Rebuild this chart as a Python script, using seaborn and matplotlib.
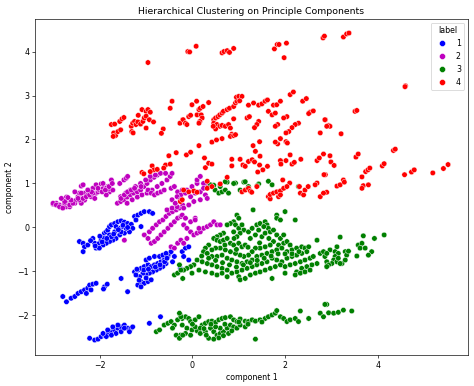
import matplotlib
matplotlib.use("Agg")
import matplotlib.pyplot as plt
import seaborn as sns
import pandas as pd

labels = [1, 2, 3, 4]
colors = {1: "blue", 2: "m", 3: "green", 4: "red"}
xticks = [-2, 0, 2, 4]
yticks = [-2, -1, 0, 1, 2, 3, 4]

blue_pts = [
    (-2.44, -0.32), (-2.36, -0.36), (-2.33, -0.44), (-2.36, -0.55), (-2.26, -0.40), (-2.15, -0.25),
    (-2.11, -0.36), (-2.08, -0.47), (-2.04, -0.44), (-2.01, -0.36), (-1.97, -0.29), (-1.93, -0.21),
    (-1.90, -0.13), (-1.86, -0.10), (-1.83, -0.06), (-1.79, 0.02), (-1.75, 0.06), (-1.68, 0.09),
    (-1.61, 0.13), (-1.54, 0.15), (-1.47, 0.12), (-1.40, 0.09), (-1.32, 0.07), (-1.29, -0.02),
    (-1.36, -0.10), (-1.47, -0.13), (-1.57, -0.17), (-1.65, -0.25), (-1.72, -0.29), (-1.79, -0.32),
    (-1.86, -0.36), (-1.93, -0.40), (-2.01, -0.47), (-1.90, -0.25), (-1.79, -0.17), (-1.68, -0.10),
    (-1.57, -0.02), (-1.50, 0.02), (-1.43, -0.02), (-1.65, 0.02), (-1.54, -0.10), (-1.75, -0.21),
    (-2.20, -0.30), (-2.00, -0.20), (-1.85, -0.25), (-1.70, -0.15), (-1.60, -0.05), (-1.50, 0.05),
    (-1.40, 0.00), (-2.10, -0.42), (-1.95, -0.33),
    (-1.25, 0.25), (-1.18, 0.28), (-1.11, 0.32), (-1.04, 0.36), (-0.93, 0.36), (-0.86, 0.32),
    (-1.11, 0.02), (-1.22, 0.17),
    (-1.25, -1.01), (-1.18, -0.97), (-1.11, -0.93), (-1.04, -0.89), (-0.96, -0.85), (-0.89, -0.89),
    (-0.82, -0.85), (-0.75, -0.82), (-0.68, -0.78), (-0.61, -0.74), (-0.53, -0.66), (-0.50, -0.59),
    (-0.46, -0.55), (-0.57, -0.82), (-0.64, -0.89), (-0.71, -0.93), (-0.78, -0.97), (-0.86, -1.01),
    (-0.93, -1.04), (-1.00, -1.08), (-1.07, -1.04), (-1.14, -1.12), (-1.22, -1.08), (-1.11, -1.23),
    (-1.04, -1.27), (-0.96, -1.23), (-0.89, -1.19), (-1.18, -1.31), (-1.11, -1.35), (-1.40, -1.46),
    (-1.54, -1.16), (-1.00, -0.74), (-0.93, -0.70), (-0.82, -0.66), (-0.71, -0.66), (-0.64, -0.63),
    (-0.57, -0.59), (-0.39, -0.66), (-0.43, -0.78),
    (-1.20, -0.95), (-1.05, -0.97), (-0.95, -0.95), (-0.80, -0.90), (-0.70, -0.85), (-0.60, -0.78),
    (-0.55, -0.70), (-1.15, -1.20), (-1.00, -1.15),
    (-0.22, -0.55), (-0.15, -0.47), (-0.08, -0.44), (-0.19, -0.66), (-0.08, -0.74), (-0.26, -0.93),
    (-2.80, -1.57), (-2.72, -1.69), (-2.62, -1.61), (-2.54, -1.57), (-2.47, -1.50), (-2.40, -1.46),
    (-2.33, -1.42), (-2.26, -1.38), (-2.22, -1.31), (-2.15, -1.29), (-2.08, -1.27), (-2.19, -1.42),
    (-2.29, -1.50), (-1.90, -1.35), (-1.84, -1.29), (-1.92, -1.40),
    (-2.22, -2.52), (-2.11, -2.56), (-2.04, -2.54), (-1.97, -2.48), (-1.90, -2.45), (-1.83, -2.41),
    (-1.75, -2.37), (-1.68, -2.33), (-1.61, -2.29), (-1.54, -2.26), (-1.47, -2.22), (-1.40, -2.29),
    (-1.32, -2.29), (-1.29, -2.26), (-1.36, -2.37), (-1.54, -2.37), (-1.65, -2.41), (-1.75, -2.45),
    (-1.86, -2.48), (-1.93, -2.41), (-1.83, -2.33), (-1.72, -2.26), (-1.61, -2.22), (-1.47, -2.29),
    (-0.93, -2.18), (-0.69, -2.03),
]

purple_pts = [
    (-3.01, 0.53), (-2.94, 0.55), (-2.87, 0.51), (-2.80, 0.47), (-2.72, 0.47), (-2.69, 0.55),
    (-2.72, 0.69), (-2.62, 0.59), (-2.54, 0.55), (-2.51, 0.62), (-2.47, 0.70), (-2.44, 0.78),
    (-2.40, 0.94), (-2.36, 0.97), (-2.54, 0.81), (-2.33, 0.78), (-2.26, 0.74), (-2.19, 0.70),
    (-2.11, 0.66), (-2.08, 0.78), (-2.04, 0.81), (-1.97, 0.85), (-1.90, 0.89), (-1.83, 0.93),
    (-2.15, 0.89), (-2.08, 0.97), (-1.97, 0.99), (-1.93, 1.00), (-1.79, 0.81), (-1.75, 1.08),
    (-1.86, 0.74), (-2.26, 0.85), (-2.33, 0.62), (-2.40, 0.55), (-2.65, 0.47), (-2.76, 0.55),
    (-3.01, 0.55), (-2.94, 0.51), (-2.87, 0.47), (-2.80, 0.44), (-2.65, 0.51), (-2.58, 0.55),
    (-2.44, 0.62), (-2.36, 0.66), (-2.29, 0.70), (-2.22, 0.74), (-2.15, 0.78), (-2.01, 0.85),
    (-1.93, 0.88), (-1.86, 0.89), (-1.79, 0.88), (-1.72, 0.85), (-2.76, 0.59), (-2.62, 0.62),
    (-2.47, 0.66), (-2.18, 0.81), (-2.04, 0.89), (-2.83, 0.66), (-2.69, 0.68), (-2.40, 0.78),
    (-2.26, 0.85), (-1.95, 0.81), (-1.88, 0.85), (-1.80, 0.93), (-1.73, 1.00),
    (-1.62, 0.55), (-1.55, 0.59), (-1.48, 0.63), (-1.41, 0.69), (-1.34, 0.74), (-1.27, 0.78),
    (-1.19, 0.81), (-1.12, 0.85), (-1.05, 0.93), (-0.98, 1.00), (-0.91, 1.08), (-0.83, 1.14),
    (-0.76, 1.19), (-0.69, 1.23), (-0.58, 1.23), (-1.55, 0.70), (-1.44, 0.78), (-1.34, 0.85),
    (-1.23, 0.93), (-1.12, 1.00), (-1.01, 1.08), (-0.91, 1.16), (-0.80, 1.19), (-1.41, 0.55),
    (-1.30, 0.63), (-1.19, 0.69), (-1.09, 0.74), (-0.98, 0.78), (-0.87, 0.85), (-0.76, 0.93),
    (-0.66, 1.00), (-0.55, 1.08), (-0.48, 1.16), (-0.44, 1.23), (-1.54, 0.66), (-1.47, 0.74),
    (-1.40, 0.81), (-1.32, 0.85), (-1.25, 0.89), (-1.11, 0.93), (-0.96, 0.85), (-0.89, 0.78),
    (-0.82, 0.74), (-0.75, 0.78), (-0.68, 0.81), (-0.61, 0.85), (-0.46, 0.89), (-0.39, 0.93),
    (-0.32, 0.81), (-0.25, 0.74), (-1.57, 1.00), (-1.48, 1.08), (-1.43, 1.12), (-1.40, 1.16),
    (-1.04, -0.17), (-0.96, -0.25), (-0.89, -0.36), (-0.82, -0.32), (-0.75, -0.25), (-0.68, -0.17),
    (-0.61, -0.10), (-0.53, -0.02), (-0.46, 0.06), (-0.39, 0.13), (-0.32, 0.21), (-0.25, 0.25),
    (-0.93, -0.10), (-0.86, -0.02), (-0.78, 0.06), (-0.71, 0.13), (-0.64, 0.17), (-0.57, 0.25),
    (-0.50, 0.32), (-0.43, 0.36), (-0.35, 0.40), (-0.28, 0.44), (-0.21, 0.51), (-0.46, -0.44),
    (-0.39, -0.47), (-0.32, -0.36), (-0.25, -0.29), (-1.47, -0.29),
    (-0.55, 0.40), (-0.44, 0.44), (-0.33, 0.47), (0.32, 0.93), (0.10, 1.00), (-0.01, 0.93),
    (-0.12, 0.85), (-0.33, 0.70), (-0.44, 0.63), (-0.37, 0.55), (-0.26, 0.63), (0.24, 1.00),
    (0.10, 1.08), (0.17, 1.16),
    (-0.22, 0.85), (-0.15, 0.78), (-0.04, 0.70), (0.06, 0.78), (0.17, 0.81), (0.24, 0.89),
    (0.28, 0.74), (0.32, 0.66), (0.17, 0.63), (0.03, 0.59), (-0.08, 0.51), (-0.19, 0.44),
    (-0.22, 0.28), (-0.15, 0.21), (-0.04, 0.13), (0.06, 0.21), (-0.19, 0.06), (-0.12, -0.02),
    (-0.04, -0.10), (0.03, -0.17), (0.10, -0.13), (0.17, -0.10), (0.24, -0.02), (0.32, 0.02),
    (0.39, 0.06), (0.46, 0.13), (0.53, 0.06), (0.60, 0.06), (-0.12, -0.25), (-0.19, -0.36),
    (0.06, 0.17), (0.14, -0.02),
]

green_pts = [
    (0.75, 1.03), (0.93, 1.01), (1.11, 1.03), (1.43, 0.99), (1.64, 1.05), (1.72, 0.97),
    (2.29, 0.93), (0.60, 0.97), (0.46, 0.96), (1.40, 0.95),
    (0.39, 0.97), (0.49, 0.85), (0.57, 0.78), (0.64, 0.81), (0.71, 0.85), (0.78, 0.78),
    (0.71, 1.04), (0.89, 1.00), (1.03, 0.85), (1.14, 1.04), (1.21, 0.93), (0.60, 0.93),
    (1.31, 0.40), (2.00, 0.36), (1.82, 0.28), (1.82, 0.21), (1.90, 0.17), (2.22, 0.17),
    (0.96, 0.28), (1.00, 0.21), (0.89, 0.13), (0.82, 0.09), (0.75, 0.06), (0.93, 0.06),
    (1.00, -0.02), (1.07, 0.06), (1.11, -0.06), (1.03, -0.13), (0.96, -0.21), (0.89, -0.10),
    (0.67, -0.13), (0.60, -0.17), (0.53, -0.21), (0.46, -0.25), (0.53, -0.29), (0.60, -0.32),
    (0.67, -0.29), (0.75, -0.25), (0.82, -0.36), (0.89, -0.40), (1.00, -0.36), (1.07, -0.44),
    (1.14, -0.40), (1.21, -0.10), (1.29, -0.02), (1.39, 0.06), (1.46, 0.09), (1.57, 0.13),
    (1.61, 0.06), (1.64, -0.02), (1.54, 0.02), (1.43, -0.06), (1.36, -0.17), (1.50, -0.21),
    (1.57, -0.13), (1.68, -0.10), (1.75, -0.06), (1.82, -0.17), (1.90, -0.25), (1.97, -0.17),
    (1.97, -0.36), (2.04, -0.32), (2.11, -0.40), (1.86, -0.40), (1.75, -0.32), (1.68, -0.40),
    (1.57, -0.44), (1.46, -0.47), (1.36, -0.47), (1.29, -0.55), (1.21, -0.63), (1.11, -0.66),
    (1.03, -0.63), (0.93, -0.59), (0.82, -0.55), (0.71, -0.51), (0.60, -0.47), (0.50, -0.47),
    (0.42, -0.51), (0.35, -0.40), (0.28, -0.47), (0.24, -0.55), (0.32, -0.59), (0.42, -0.66),
    (0.53, -0.66), (0.64, -0.63), (0.75, -0.70), (0.85, -0.74), (0.96, -0.78), (1.07, -0.82),
    (1.18, -0.78), (1.29, -0.74), (1.39, -0.66), (1.50, -0.63), (1.61, -0.59), (1.72, -0.55),
    (1.82, -0.51), (1.93, -0.47), (2.04, -0.55), (2.15, -0.51), (2.25, -0.47), (2.36, -0.44),
    (2.43, -0.47), (2.51, -0.44), (2.47, -0.55), (2.36, -0.59), (2.25, -0.63), (2.15, -0.66),
    (2.04, -0.70), (1.93, -0.78), (1.82, -0.74), (1.72, -0.70), (1.61, -0.78), (1.50, -0.82),
    (1.39, -0.85), (1.29, -0.89), (1.18, -0.93), (1.07, -0.97), (0.96, -1.01), (0.85, -1.04),
    (0.75, -0.97), (0.64, -0.93), (0.53, -0.89), (0.42, -0.85), (0.32, -0.82), (0.21, -0.78),
    (0.10, -0.74), (0.03, -0.85), (-0.04, -0.89), (-0.12, -0.93), (-0.19, -0.97), (-0.01, -1.04),
    (0.14, -0.97), (0.28, -1.01), (0.42, -1.04), (0.53, -1.08), (0.64, -1.04), (0.75, -1.12),
    (1.00, -1.12), (1.03, -1.19), (1.14, -1.16), (1.25, -1.08), (1.36, -1.04), (1.46, -1.01),
    (1.57, -0.97), (1.68, -0.93), (1.79, -0.89), (1.90, -0.85), (2.00, -0.89), (2.11, -0.85),
    (2.22, -0.82), (2.33, -0.78), (2.43, -0.74), (2.54, -0.70), (2.61, -0.66), (2.69, -0.82),
    (2.58, -0.85), (2.47, -0.89), (2.36, -0.93), (2.25, -1.01), (2.22, -1.08), (2.33, -1.04),
    (2.43, -1.01), (2.54, -0.97), (2.00, -1.04), (1.72, -1.16), (2.69, -0.29), (2.76, -0.59),
    (2.83, -0.55), (2.86, -0.66), (2.90, -0.78), (2.90, -0.89),
    (0.20, -0.65), (0.35, -0.70), (0.50, -0.75), (0.65, -0.80), (0.80, -0.85), (0.95, -0.90),
    (1.10, -0.85), (1.25, -0.80), (1.40, -0.75), (1.55, -0.70), (1.70, -0.65), (1.85, -0.60),
    (2.00, -0.60), (2.15, -0.60), (2.30, -0.55), (0.70, -0.40), (0.95, -0.50), (1.20, -0.45),
    (1.45, -0.35), (1.65, -0.25), (1.25, -0.25), (0.90, -0.25),
    (-0.39, -1.08), (-0.32, -1.04), (-0.25, -0.97), (-0.28, -0.85), (-0.21, -1.16),
    (3.19, -0.22), (3.69, -0.19), (3.93, -0.25), (4.14, -0.17), (3.58, -0.40), (3.66, -0.36),
    (3.73, -0.47), (3.62, -0.47), (3.87, -0.55), (3.80, -0.63), (3.55, -0.65), (2.97, -0.51),
    (2.90, -0.59), (3.12, -0.44), (3.08, -0.55), (3.15, -0.59), (3.30, -0.55), (3.33, -0.63),
    (3.37, -0.54), (3.08, -0.66), (3.05, -0.74), (3.12, -0.78), (3.15, -0.70), (3.23, -0.82),
    (3.01, -0.82), (2.94, -0.85), (2.90, -0.89), (3.19, -0.82), (3.30, -0.74),
    (2.90, -1.75), (2.94, -1.94), (3.05, -1.95), (3.15, -1.93), (3.26, -1.88), (3.44, -1.90),
    (-0.26, -1.99), (-0.22, -2.07), (-0.15, -2.03), (-0.08, -2.07), (-0.04, -2.14), (0.06, -2.10),
    (0.14, -2.03), (0.21, -2.22), (0.28, -2.18), (0.35, -2.14), (0.42, -2.13), (0.50, -2.16),
    (0.57, -2.10), (0.64, -2.07), (0.71, -2.05), (0.82, -2.03), (0.89, -2.10), (0.96, -2.14),
    (1.03, -2.08), (1.14, -2.13), (1.21, -2.14), (1.29, -2.10), (1.36, -2.13), (1.46, -2.10),
    (1.57, -2.07), (1.64, -2.03), (1.72, -1.99), (1.79, -1.95), (1.82, -1.89), (1.90, -2.03),
    (1.97, -2.07), (2.04, -2.14), (2.11, -2.10), (2.22, -2.07), (2.29, -2.14), (2.33, -1.90),
    (2.51, -2.07), (2.86, -1.75), (2.76, -1.95), (2.83, -2.03), (-0.22, -2.22), (-0.12, -2.29),
    (-0.01, -2.33), (0.10, -2.35), (0.17, -2.41), (0.28, -2.37), (0.39, -2.29), (0.46, -2.37),
    (0.53, -2.45), (0.60, -2.41), (0.67, -2.37), (0.75, -2.29), (0.82, -2.22), (0.89, -2.26),
    (0.35, -2.52), (0.46, -2.54), (0.57, -2.51), (0.67, -2.46), (0.78, -2.41), (0.85, -2.35),
    (0.60, -2.29), (0.50, -2.26), (0.06, -2.26), (-0.15, -2.41), (-0.26, -2.45), (1.36, -2.54),
    (-0.04, -2.45), (0.17, -2.29), (1.14, -2.26), (0.96, -2.29), (1.03, -2.22),
    (0.00, -2.20), (0.25, -2.30), (0.40, -2.20), (0.70, -2.20), (1.00, -2.15), (1.20, -2.20),
    (1.50, -2.15), (0.30, -2.45),
    (-0.78, -2.37), (-0.71, -2.33), (-0.61, -2.22), (-0.53, -2.18), (-0.46, -2.14), (-0.39, -2.22),
    (-0.32, -2.10), (-0.25, -2.03), (-0.28, -1.95), (-0.35, -2.45), (-0.28, -2.52), (-0.21, -2.45),
    (-0.43, -2.29),
]

red_pts = [
    (-0.10, 4.00), (-0.06, 3.99), (0.08, 4.12), (0.64, 3.97), (0.68, 4.00), (0.75, 4.02),
    (0.80, 3.98), (0.89, 4.07), (1.77, 4.06), (1.83, 4.16), (1.87, 4.16), (2.03, 4.19),
    (1.98, 3.86), (2.82, 4.31), (2.85, 4.35), (3.26, 4.33), (3.33, 4.40), (3.38, 4.42),
    (-0.96, 3.75),
    (4.60, 3.22), (4.59, 3.20), (3.51, 2.64), (3.55, 2.66), (2.87, 2.45), (2.94, 2.32),
    (2.97, 2.30), (3.21, 2.13), (2.97, 1.63), (2.99, 1.49), (3.06, 1.41), (3.53, 1.60),
    (3.58, 1.67), (3.66, 1.15), (3.74, 1.27), (3.79, 1.31), (3.83, 1.35), (4.10, 1.40),
    (4.14, 1.45), (4.34, 1.75), (4.38, 1.78), (4.58, 1.20), (4.73, 1.26), (4.79, 1.31),
    (5.19, 1.24), (5.42, 1.34), (5.52, 1.43), (2.87, 1.20), (3.12, 0.94), (3.19, 0.97),
    (3.26, 1.08), (3.28, 1.03), (3.69, 0.95), (3.80, 0.97), (2.90, 0.80), (3.66, 0.89),
    (-1.75, 2.34), (-1.68, 2.35), (-1.57, 2.41), (-1.52, 2.47), (-1.48, 2.50), (-1.70, 2.15),
    (-1.66, 2.09), (-1.71, 2.07), (-1.61, 2.18), (-1.55, 2.22), (-1.32, 2.30), (-1.29, 2.37),
    (-1.25, 2.41), (-1.22, 2.34), (-1.18, 2.40), (-1.12, 2.35), (-1.07, 2.41), (-1.04, 2.49),
    (-1.09, 2.68), (-1.00, 2.64), (-0.96, 2.68), (-0.91, 2.62), (-1.00, 2.53), (-0.93, 2.45),
    (-0.84, 2.40), (-1.17, 2.55), (-1.31, 2.18), (-1.28, 2.15), (-1.00, 2.26),
    (-0.44, 2.87), (-0.48, 2.71), (-0.21, 2.45), (-0.27, 2.37), (-0.63, 2.24), (-0.67, 2.14),
    (-0.35, 1.70), (-0.51, 1.63), (-0.58, 1.42), (-0.48, 1.44), (-0.62, 1.35), (-0.87, 1.40),
    (-0.83, 1.31), (-0.91, 1.27), (-1.09, 1.25), (-1.05, 1.22), (-0.76, 1.32), (0.28, 1.36),
    (-0.26, 0.59), (-0.22, 0.63),
    (-0.01, 2.79), (0.09, 2.87), (0.14, 2.68), (0.17, 2.71), (0.23, 2.75), (0.35, 2.84),
    (0.10, 2.56), (0.19, 2.56), (0.21, 2.49), (0.16, 2.41), (0.14, 2.37), (-0.08, 2.52),
    (-0.04, 2.55), (-0.20, 2.45), (-0.15, 2.37), (-0.12, 2.34),
    (0.46, 2.45), (0.50, 2.49), (0.55, 2.52), (0.59, 2.56), (0.64, 2.60), (0.67, 2.64),
    (0.75, 2.68), (0.80, 2.71), (0.89, 2.75), (0.93, 2.83), (0.96, 2.87), (0.95, 2.96),
    (1.00, 2.98), (1.07, 2.98), (1.02, 2.88),
    (0.46, 2.37), (0.53, 2.34), (0.59, 2.30), (0.64, 2.32), (0.71, 2.30), (0.78, 2.34),
    (0.82, 2.26), (0.89, 2.47), (0.85, 2.12), (0.82, 2.07), (0.89, 2.09), (0.93, 2.11),
    (0.50, 2.24), (0.45, 2.30),
    (1.21, 2.78), (1.32, 2.83), (1.43, 2.78), (1.50, 2.81), (1.57, 2.87), (1.62, 2.90),
    (1.75, 2.78), (1.82, 2.79), (1.90, 2.87), (1.64, 2.64), (1.72, 2.56), (1.79, 2.60),
    (1.18, 2.49), (1.23, 2.52), (1.43, 2.41), (1.39, 2.34), (1.34, 2.27), (2.04, 2.52),
    (1.97, 2.49), (1.84, 2.34), (1.79, 2.30),
    (2.11, 3.02), (2.18, 3.08), (2.38, 2.87), (2.46, 2.93), (2.54, 2.62), (2.51, 2.59),
    (2.61, 2.65), (2.86, 2.45), (2.90, 2.30), (2.76, 2.15), (2.29, 2.37), (2.22, 2.34),
    (2.15, 2.27), (2.08, 2.18), (2.02, 2.15), (1.90, 2.02), (1.84, 1.90), (1.79, 1.94),
    (2.02, 1.95), (2.05, 1.92), (1.45, 1.95), (1.31, 1.86), (1.36, 1.73), (1.46, 1.62),
    (0.14, 1.86), (0.42, 1.94), (0.52, 1.99), (0.64, 2.02),
    (-0.13, 1.65), (-0.04, 1.71), (0.26, 1.58), (0.35, 1.46), (0.42, 1.44), (0.85, 1.40),
    (0.85, 1.55), (1.03, 1.55), (1.09, 1.42), (1.14, 1.39), (1.21, 1.50), (1.29, 1.54),
    (1.34, 1.49), (1.45, 1.42), (1.62, 1.39), (1.52, 1.31), (1.41, 1.26), (1.90, 1.52),
    (1.91, 1.44), (2.02, 1.52), (2.11, 1.65), (2.15, 1.44), (2.20, 1.48), (2.34, 1.55),
    (2.69, 1.52), (2.74, 1.58), (2.83, 1.67), (2.84, 1.20), (2.69, 1.01), (2.65, 0.97),
    (0.75, 1.14), (0.32, 1.05), (0.60, 0.99), (1.95, 1.08), (2.10, 1.01), (2.31, 0.93),
    (-0.19, 0.85), (-0.08, 0.81), (0.03, 0.83), (0.10, 0.80), (0.32, 0.89), (0.42, 0.93),
    (1.07, 0.81), (1.14, 0.85), (1.21, 0.89), (1.25, 0.83), (1.28, 0.80), (1.39, 0.93),
    (1.64, 0.70), (1.68, 0.65), (1.68, 0.75), (1.75, 0.78), (1.82, 0.81), (1.90, 0.83),
    (1.97, 0.89), (2.04, 0.93), (2.33, 0.78), (2.40, 0.74), (2.43, 0.85), (2.50, 0.93),
    (2.76, 0.70), (2.83, 0.78), (1.86, 0.70), (1.90, 0.74),
]

groups = {1: blue_pts, 2: purple_pts, 3: green_pts, 4: red_pts}
rows = []
for lab in labels:
    for (x, y) in groups[lab]:
        rows.append({"component 1": x, "component 2": y, "label": lab})
df = pd.DataFrame(rows)

fig, ax = plt.subplots(figsize=(8, 6.515), dpi=59.25)
sns.scatterplot(data=df, x="component 1", y="component 2", hue="label",
                palette=colors, hue_order=labels, ax=ax, s=44)
ax.set_title("Hierarchical Clustering on Principle Components", fontsize=11.4)
ax.set_xlabel("component 1", fontsize=9.5)
ax.set_ylabel("component 2", fontsize=9.5)
ax.set_xticks(xticks)
ax.set_yticks(yticks)
ax.tick_params(labelsize=9.5)
ax.set_xlim(-3.4, 5.95)
ax.set_ylim(-2.9, 4.74)
ax.legend(title="label", loc="upper right", fontsize=9.5, title_fontsize=9.5,
          markerscale=1.1)
fig.subplots_adjust(left=0.0738, right=0.9873, bottom=0.0803, top=0.9508)
fig.savefig("out.png", dpi=59.25)
